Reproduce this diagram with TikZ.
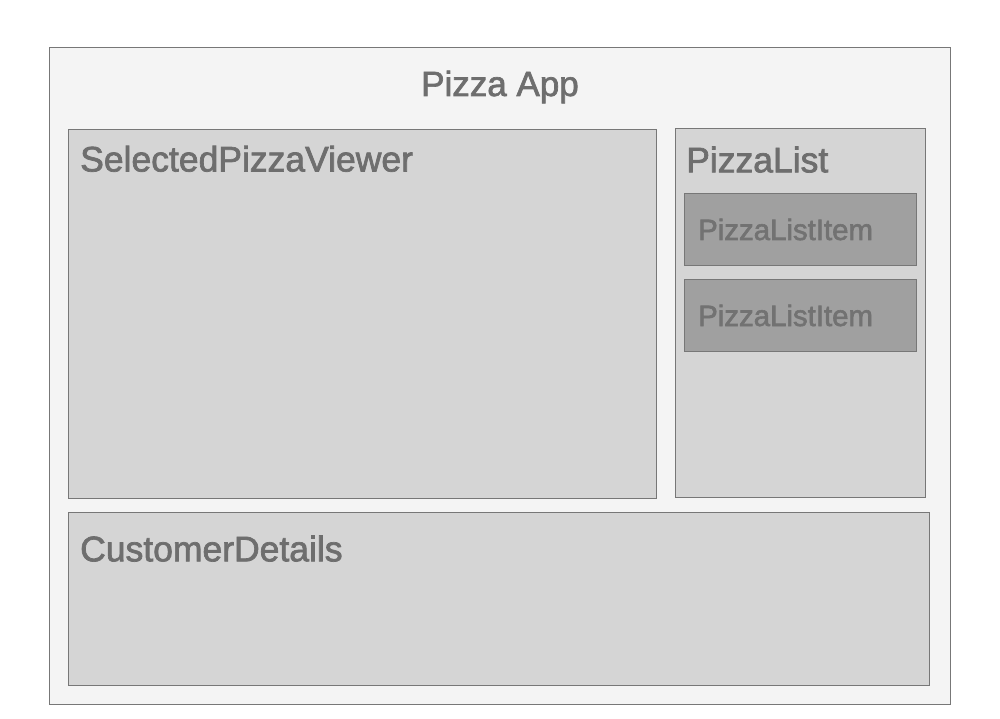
\documentclass[tikz,border=0pt]{standalone}
\usepackage{fontspec}
\setmainfont{Liberation Sans}
\newfontfamily\medfont[FakeBold=2]{Liberation Sans}
\definecolor{outerfill}{HTML}{F4F4F4}
\definecolor{panelfill}{HTML}{D5D5D5}
\definecolor{itemfill}{HTML}{A0A0A0}
\definecolor{edge}{HTML}{777777}
\definecolor{txt}{HTML}{6E6E6E}
\definecolor{itemtxt}{HTML}{727272}
\tikzset{
  box/.style={draw=edge, line width=1pt, anchor=north west, inner sep=0pt, outer sep=0pt, rectangle},
  outerbox/.style={box, fill=outerfill},
  panel/.style={box, fill=panelfill},
  itembox/.style={box, fill=itemfill},
  bigtxt/.style={text=txt, inner sep=0pt, anchor=base west, font=\medfont\fontsize{35.5}{40}\selectfont},
  smalltxt/.style={text=itemtxt, inner sep=0pt, anchor=base west, font=\medfont\fontsize{29.4}{34}\selectfont}
}
\begin{document}
\begin{tikzpicture}[x=1pt,y=-1pt]
\useasboundingbox (0,0) rectangle (1000,719);
\fill[white] (0,0) rectangle (1000,719);
\node[outerbox, minimum width=901pt, minimum height=657pt] (app) at (49.5,47.5) {};
\node[panel, minimum width=588pt, minimum height=369pt] (viewer) at (68.5,129.5) {};
\node[panel, minimum width=250pt, minimum height=369pt] (list) at (675.5,128.5) {};
\node[itembox, minimum width=232pt, minimum height=72pt] (item1) at (684.5,193.5) {};
\node[itembox, minimum width=232pt, minimum height=72pt] (item2) at (684.5,279.5) {};
\node[panel, minimum width=861pt, minimum height=173pt] (cust) at (68.5,512.5) {};
\node[text=txt, inner sep=0pt, anchor=base, font=\medfont\fontsize{35}{40}\selectfont] (apptxt) at (500,96) {Pizza App};
\node[bigtxt] (viewertxt) at (80,171.5) {SelectedPizzaViewer};
\node[bigtxt] (listtxt) at (686,172.3) {PizzaList};
\node[smalltxt] (item1txt) at (698,240) {PizzaListItem};
\node[smalltxt] (item2txt) at (698,326) {PizzaListItem};
\node[bigtxt] (custtxt) at (80,561.3) {CustomerDetails};
\end{tikzpicture}
\end{document}
